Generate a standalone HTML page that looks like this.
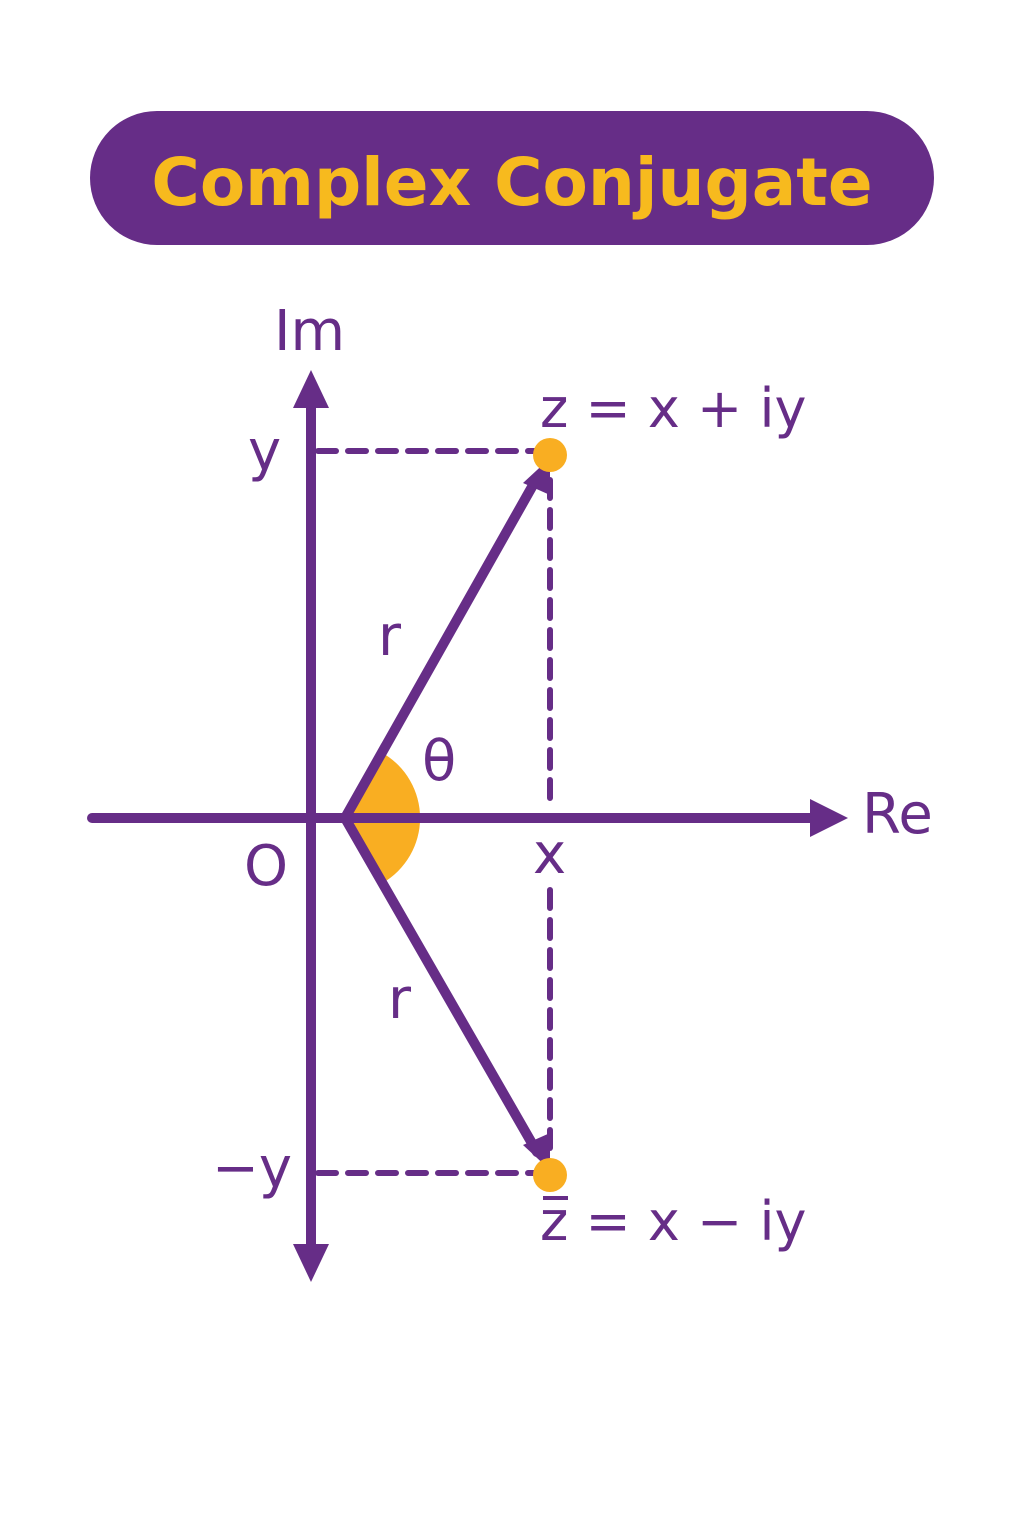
<!DOCTYPE html>
<html><head><meta charset="utf-8"><style>
html,body{margin:0;padding:0;background:#fff;}
svg{display:block}
text{font-family:"DejaVu Sans","Liberation Sans",sans-serif;fill:#662D87}
</style></head><body>
<svg width="1024" height="1536" viewBox="0 0 1024 1536">
<rect x="90" y="111" width="844" height="134" rx="67" fill="#662D87"/>
<text x="512" y="205" text-anchor="middle" font-size="66" font-weight="bold" style="fill:#F7BA1E">Complex Conjugate</text>
<path d="M345,818 L382.5,753 A75,75 0 0 1 382.5,883 Z" fill="#F9AE22"/>
<g stroke="#662D87" stroke-width="6" stroke-dasharray="18,12" stroke-linecap="round" fill="none">
<line x1="318" y1="451" x2="535" y2="451"/>
<line x1="318" y1="1173" x2="535" y2="1173"/>
<line x1="550" y1="480" x2="550" y2="805"/>
<line x1="550" y1="890" x2="550" y2="1160"/>
</g>
<g stroke="#662D87" stroke-width="10" stroke-linecap="round">
<line x1="311" y1="400" x2="311" y2="1255"/>
<line x1="92" y1="818" x2="815" y2="818"/>
<line x1="345" y1="818" x2="537" y2="478"/>
<line x1="345" y1="818" x2="537" y2="1152"/>
</g>
<g fill="#662D87">
<polygon points="311,370 293,408 329,408"/>
<polygon points="311,1282 293,1244 329,1244"/>
<polygon points="848,818 810,799 810,837"/>
<polygon points="550,458 523,483 550,495"/>
<polygon points="550,1170 523,1145 550,1133"/>
</g>
<circle cx="550" cy="455" r="17" fill="#F9AE22"/>
<circle cx="550" cy="1175" r="17" fill="#F9AE22"/>
<g font-size="56">
<text x="274" y="350">Im</text>
<text x="248" y="470">y</text>
<text x="540" y="427" font-size="54">z = x + iy</text>
<text x="378" y="655">r</text>
<text x="422" y="780">θ</text>
<text x="862" y="833">Re</text>
<text x="244" y="885">O</text>
<text x="533" y="873">x</text>
<text x="388" y="1018">r</text>
<text x="212" y="1187">−y</text>
<text x="540" y="1240" font-size="54">z = x − iy</text>
</g>
<line x1="543" y1="1198" x2="568" y2="1198" stroke="#662D87" stroke-width="4"/>
</svg>
</body></html>
